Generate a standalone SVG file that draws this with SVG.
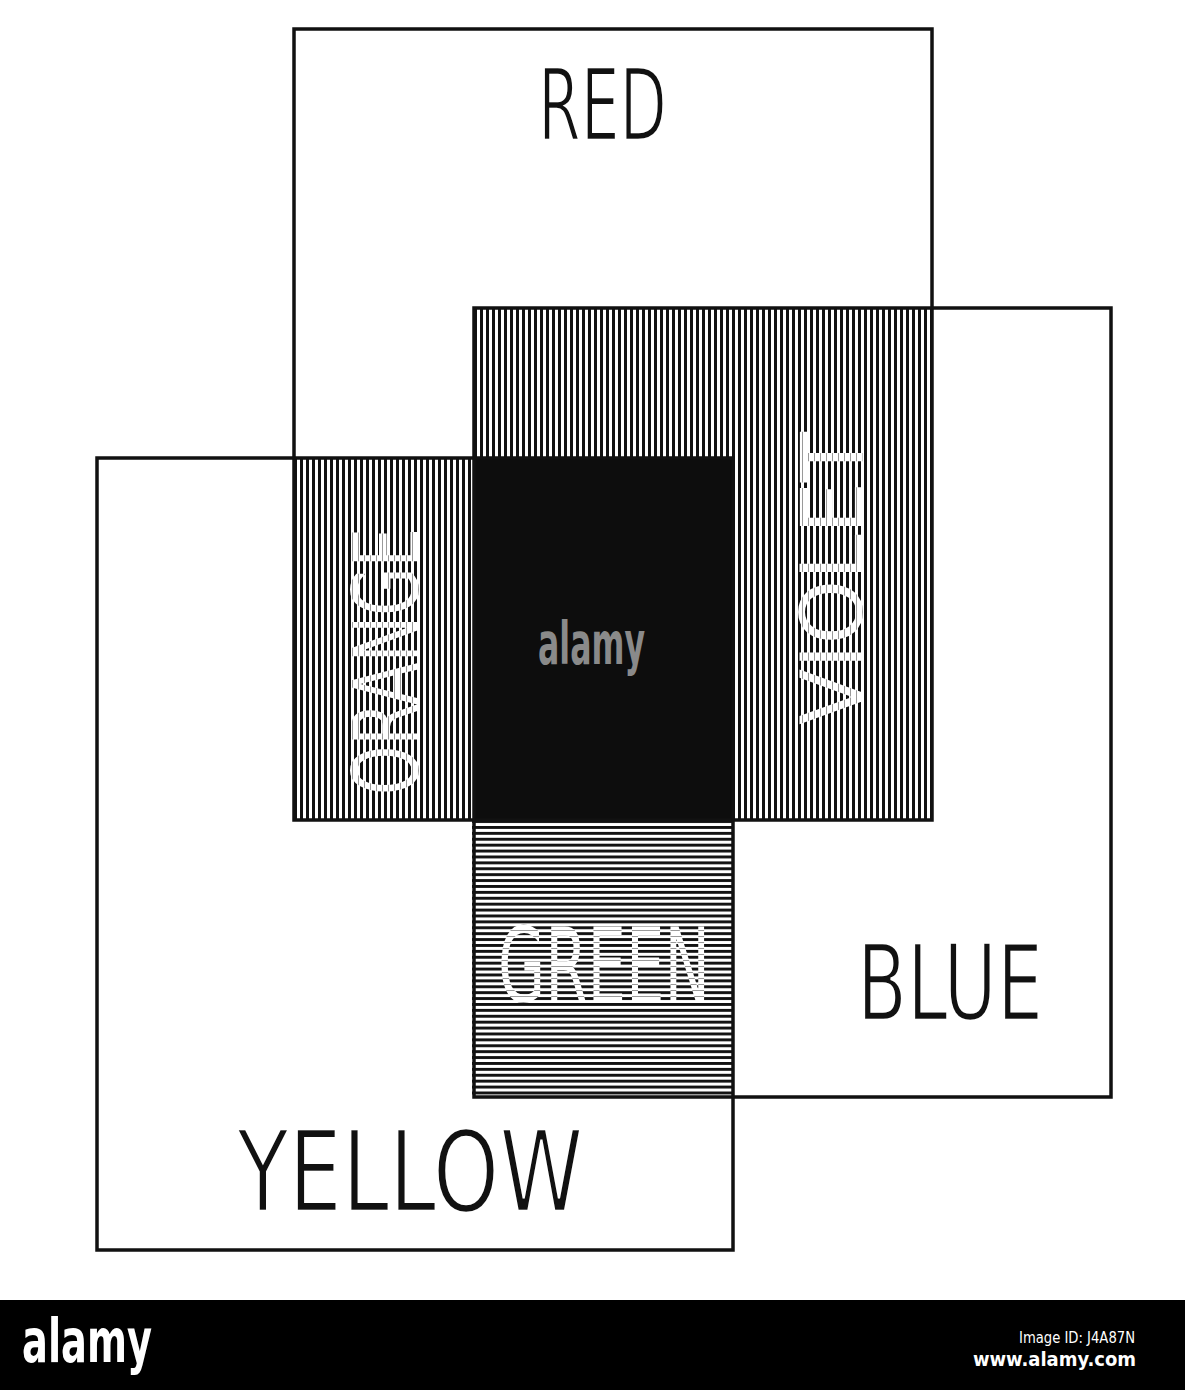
<svg xmlns="http://www.w3.org/2000/svg" width="1185" height="1390" viewBox="0 0 1185 1390">
<defs>
<pattern id="vhatch" width="6" height="10" patternUnits="userSpaceOnUse"><rect width="6" height="10" fill="#fff"/><rect x="0" y="0" width="3" height="10" fill="#111"/></pattern>
<pattern id="hhatch" width="10" height="5.9" patternUnits="userSpaceOnUse"><rect width="10" height="5.9" fill="#fff"/><rect x="0" y="0" width="10" height="2.9" fill="#111"/></pattern>
<pattern id="txtpat" width="10" height="6" patternUnits="userSpaceOnUse"><rect width="10" height="6" fill="#fff"/><rect x="0" y="0" width="10" height="1" fill="#9a9a9a"/></pattern>
<style>
.lbl{font-family:"Liberation Sans Narrow","DejaVu Sans Condensed","Liberation Sans",sans-serif;fill:#111;stroke:#fff;stroke-width:2.5;}
.wlbl{font-family:"Liberation Sans Narrow","DejaVu Sans Condensed","Liberation Sans",sans-serif;fill:url(#txtpat);}
.outline{fill:none;stroke:#111;stroke-width:3.5;stroke-linejoin:miter;}
.wm{font-family:"DejaVu Sans Condensed","Liberation Sans Narrow",sans-serif;font-weight:bold;}
</style>
</defs>
<rect width="1185" height="1390" fill="#fff"/>
<g id="violet">
<rect x="474" y="308" width="458" height="512" fill="url(#vhatch)"/>
<text class="wlbl" transform="translate(862,725) rotate(-90)" x="0" y="0" font-size="86" textLength="293" lengthAdjust="spacingAndGlyphs">VIOLET</text>
</g>
<g id="orange">
<rect x="294" y="458" width="180" height="362" fill="url(#vhatch)"/>
<text class="wlbl" transform="translate(418,795) rotate(-90)" x="0" y="0" font-size="90" textLength="267" lengthAdjust="spacingAndGlyphs">ORANGE</text>
</g>
<g id="black">
<rect x="474" y="458" width="259" height="362" fill="#0d0d0d"/>
<text class="wm" x="538" y="664" font-size="58" fill="#8a8a8a" textLength="107" lengthAdjust="spacingAndGlyphs">alamy</text>
</g>
<g id="green">
<rect x="472" y="820" width="261" height="277" fill="url(#hhatch)"/>
<text class="wlbl" x="498" y="1002" font-size="104" textLength="212" lengthAdjust="spacingAndGlyphs">GREEN</text>
</g>
<g id="red">
<rect class="outline" x="294" y="29" width="638" height="791"/>
<text class="lbl" x="538" y="140" font-size="100" textLength="129" lengthAdjust="spacingAndGlyphs">RED</text>
</g>
<g id="blue">
<rect class="outline" x="474" y="308" width="637" height="789"/>
<text class="lbl" x="857" y="1020" font-size="105" textLength="186" lengthAdjust="spacingAndGlyphs">BLUE</text>
</g>
<g id="yellow">
<rect class="outline" x="97" y="458" width="636" height="792"/>
<text class="lbl" x="237" y="1211" font-size="112" textLength="346" lengthAdjust="spacingAndGlyphs">YELLOW</text>
</g>
<g id="connectors"/>
<g id="banner">
<rect x="0" y="1300" width="1185" height="90" fill="#000"/>
<text class="wm" x="22" y="1362" font-size="60" fill="#fff" textLength="130" lengthAdjust="spacingAndGlyphs">alamy</text>
<text x="1135" y="1343" font-size="16" fill="#fff" text-anchor="end" font-family="DejaVu Sans Condensed, sans-serif" textLength="116" lengthAdjust="spacingAndGlyphs">Image ID: J4A87N</text>
<text x="1136" y="1366" font-size="20" fill="#fff" text-anchor="end" font-weight="bold" font-family="DejaVu Sans Condensed, sans-serif">www.alamy.com</text>
</g>
</svg>
